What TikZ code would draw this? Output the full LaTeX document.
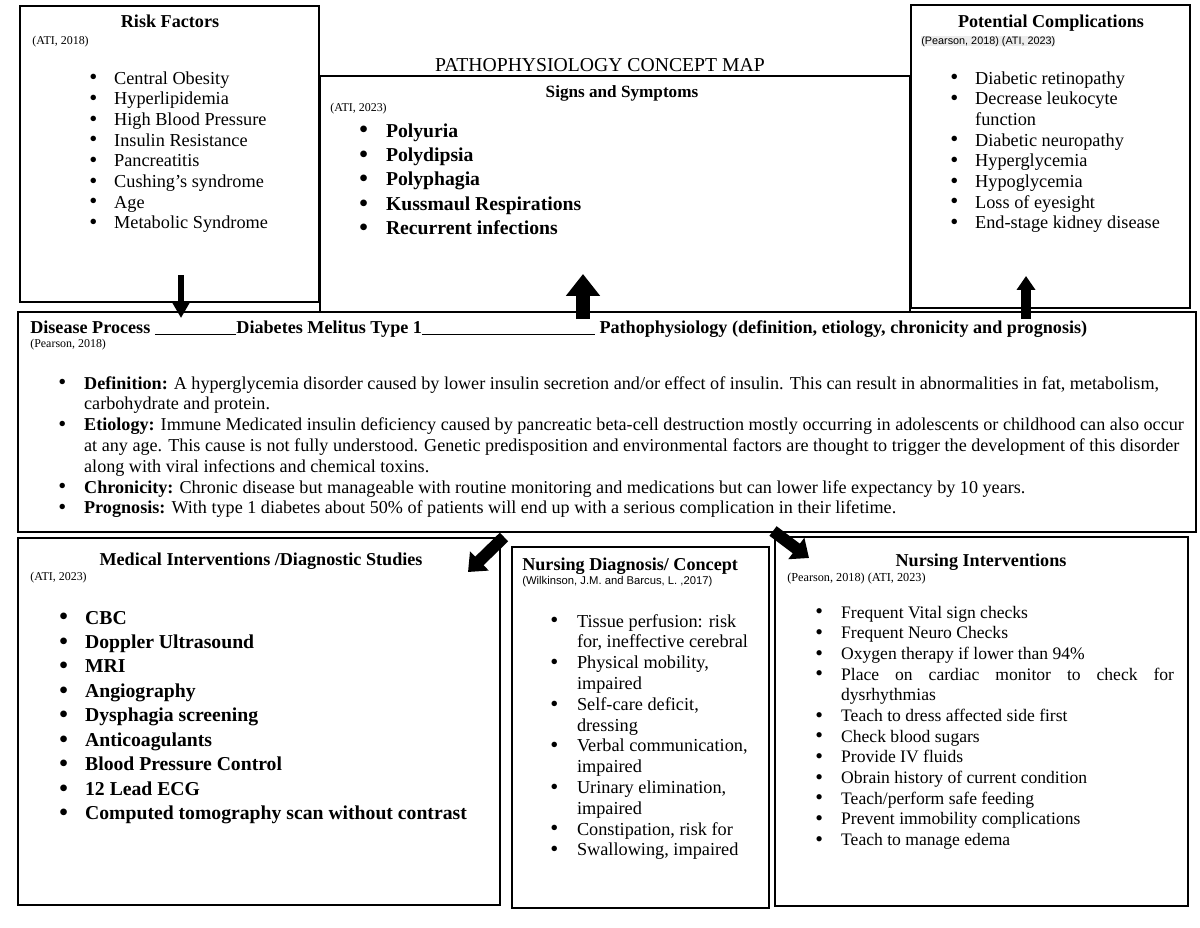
\documentclass[tikz,border=0pt]{standalone}
\usepackage{fontspec}
\setmainfont{Liberation Serif}
\newfontfamily\citesans{Liberation Sans}
\usetikzlibrary{arrows.meta,fit}

\newcommand{\blt}{\raisebox{-0.1ex}{\scalebox{1.25}{\textbullet}}}

\tikzset{
  panel/.style={draw, line width=1.1pt, inner sep=0pt},
  head/.style={font=\bfseries\fontsize{12.9}{15}\selectfont, anchor=base, inner sep=0pt},
  cite/.style={font=\fontsize{8.5}{10}\selectfont, anchor=base west, inner sep=0pt},
  sanscite/.style={font=\citesans\fontsize{7.7}{9}\selectfont, anchor=base west, inner sep=0pt},
  list/.style={anchor=base west, inner sep=0pt},
  fatarrow/.style n args={3}{line width=#1, -{Triangle[width=#2,length=#3]}},
}

\begin{document}
\begin{tikzpicture}[x=0.025cm,y=-0.025cm]
\useasboundingbox (0,0) rectangle (1200,927);

%boxes
\node[panel, fit={(20,6) (319,302)}] (risk) {};
\node[panel, fit={(320,76) (910,312)}] (signs) {};
\node[panel, fit={(911,5) (1190,308)}] (compl) {};
\node[panel, fit={(18,312) (1196,532)}] (dp) {};
\node[panel, fit={(18,538) (500,905)}] (med) {};
\node[panel, fit={(512,547) (769,908)}] (ndx) {};
\node[panel, fit={(775,537) (1188,906)}] (nint) {};

%title
\node[font=\fontsize{14}{16}\selectfont, anchor=base, inner sep=0pt] (maptitle) at (600,71) {PATHOPHYSIOLOGY CONCEPT MAP};

%risk factors
\node[head] (risk-t) at (170,27) {Risk Factors};
\node[cite] (risk-c) at (32,44) {(ATI, 2018)};
\node[list, font=\fontsize{13}{14.7}\selectfont] (risk-l) at (89,84) {%
\begin{tabular}[t]{@{}p{17.7pt}@{}l@{}}
\blt & Central Obesity\\
\blt & Hyperlipidemia\\
\blt & High Blood Pressure\\
\blt & Insulin Resistance\\
\blt & Pancreatitis\\
\blt & Cushing’s syndrome\\
\blt & Age\\
\blt & Metabolic Syndrome
\end{tabular}};

%signs and symptoms
\node[head, font=\bfseries\fontsize{12.2}{15}\selectfont] (signs-t) at (622,97) {Signs and Symptoms};
\node[cite] (signs-c) at (330,111) {(ATI, 2023)};
\node[list, font=\bfseries\fontsize{14}{17.4}\selectfont] (signs-l) at (359,137) {%
\begin{tabular}[t]{@{}p{19pt}@{}l@{}}
\blt & Polyuria\\
\blt & Polydipsia\\
\blt & Polyphagia\\
\blt & Kussmaul Respirations\\
\blt & Recurrent infections
\end{tabular}};

%potential complications
\node[head] (compl-t) at (1051,27) {Potential Complications};
\node[sanscite, fill=black!7] (compl-c) at (921,44) {(Pearson, 2018) (ATI, 2023)};
\node[list, font=\fontsize{13}{14.7}\selectfont] (compl-l) at (950,84) {%
\begin{tabular}[t]{@{}p{17.7pt}@{}l@{}}
\blt & Diabetic retinopathy\\
\blt & Decrease leukocyte\\
 & function\\
\blt & Diabetic neuropathy\\
\blt & Hyperglycemia\\
\blt & Hypoglycemia\\
\blt & Loss of eyesight\\
\blt & End-stage kidney disease
\end{tabular}};

%disease process
\node[head, anchor=base west] (dp-t) at (30,333) {Disease Process \rule[-1.5pt]{58pt}{0.5pt}Diabetes Melitus Type 1\rule[-1.5pt]{123pt}{0.5pt} Pathophysiology (definition, etiology, chronicity and prognosis)};
\node[cite] (dp-c) at (30,347) {(Pearson, 2018)};
\node[list, font=\fontsize{12.9}{14.8}\selectfont] (dp-l) at (58,389) {%
\begin{tabular}[t]{@{}p{18.4pt}@{}l@{}}
\blt & \textbf{Definition:} A hyperglycemia disorder caused by lower insulin secretion and/or effect of insulin. This can result in abnormalities in fat, metabolism,\\
 & carbohydrate and protein.\\
\blt & \textbf{Etiology:} Immune Medicated insulin deficiency caused by pancreatic beta-cell destruction mostly occurring in adolescents or childhood can also occur\\
 & at any age. This cause is not fully understood. Genetic predisposition and environmental factors are thought to trigger the development of this disorder\\
 & along with viral infections and chemical toxins.\\
\blt & \textbf{Chronicity:} Chronic disease but manageable with routine monitoring and medications but can lower life expectancy by 10 years.\\
\blt & \textbf{Prognosis:} With type 1 diabetes about 50\% of patients will end up with a serious complication in their lifetime.
\end{tabular}};

%medical interventions
\node[head] (med-t) at (261,565) {Medical Interventions /Diagnostic Studies};
\node[cite] (med-c) at (30,580) {(ATI, 2023)};
\node[list, font=\bfseries\fontsize{14}{17.4}\selectfont] (med-l) at (59,624) {%
\begin{tabular}[t]{@{}p{18.4pt}@{}l@{}}
\blt & CBC\\
\blt & Doppler Ultrasound\\
\blt & MRI\\
\blt & Angiography\\
\blt & Dysphagia screening\\
\blt & Anticoagulants\\
\blt & Blood Pressure Control\\
\blt & 12 Lead ECG\\
\blt & Computed tomography scan without contrast
\end{tabular}};

%nursing diagnosis
\node[head, anchor=base west] (ndx-t) at (522,570) {Nursing Diagnosis/ Concept};
\node[sanscite, font=\citesans\fontsize{8}{9}\selectfont] (ndx-c) at (522,584) {(Wilkinson, J.M. and Barcus, L. ,2017)};
\node[list, font=\fontsize{13}{14.8}\selectfont] (ndx-l) at (550,627) {%
\begin{tabular}[t]{@{}p{19pt}@{}l@{}}
\blt & Tissue perfusion: risk\\
 & for, ineffective cerebral\\
\blt & Physical mobility,\\
 & impaired\\
\blt & Self-care deficit,\\
 & dressing\\
\blt & Verbal communication,\\
 & impaired\\
\blt & Urinary elimination,\\
 & impaired\\
\blt & Constipation, risk for\\
\blt & Swallowing, impaired
\end{tabular}};

%nursing interventions
\node[head] (nint-t) at (981,566) {Nursing Interventions};
\node[cite, font=\fontsize{8.7}{10}\selectfont] (nint-c) at (787,581) {(Pearson, 2018) (ATI, 2023)};
\node[list, font=\fontsize{12.5}{14.7}\selectfont] (nint-l) at (815,618) {%
\begin{tabular}[t]{@{}p{18.4pt}@{}l@{}}
\blt & Frequent Vital sign checks\\
\blt & Frequent Neuro Checks\\
\blt & Oxygen therapy if lower than 94\%\\
\blt & \makebox[236.7pt][s]{Place on cardiac monitor to check for}\\
 & dysrhythmias\\
\blt & Teach to dress affected side first\\
\blt & Check blood sugars\\
\blt & Provide IV fluids\\
\blt & Obrain history of current condition\\
\blt & Teach/perform safe feeding\\
\blt & Prevent immobility complications\\
\blt & Teach to manage edema
\end{tabular}};

%arrows
\coordinate (risk-out) at (181,275);
\coordinate (dp-in) at (181,318);
\coordinate (signs-from) at (583,319);
\coordinate (signs-in) at (583,274);
\coordinate (compl-from) at (1026,319);
\coordinate (compl-in) at (1026,276);
\coordinate (med-from) at (504,537);
\coordinate (med-in) at (468,572);
\coordinate (nint-from) at (773,531);
\coordinate (nint-in) at (809,558);

\draw[fatarrow={4.3pt}{11.3pt}{10.6pt}] (risk-out) -- (dp-in);
\draw[fatarrow={10.6pt}{23.4pt}{15.6pt}] (signs-from) -- (signs-in);
\draw[fatarrow={7.1pt}{12.8pt}{9.9pt}] (compl-from) -- (compl-in);
\draw[fatarrow={8.5pt}{18.4pt}{11.3pt}] (med-from) -- (med-in);
\draw[fatarrow={8.5pt}{18.4pt}{11.3pt}] (nint-from) -- (nint-in);

\end{tikzpicture}
\end{document}
